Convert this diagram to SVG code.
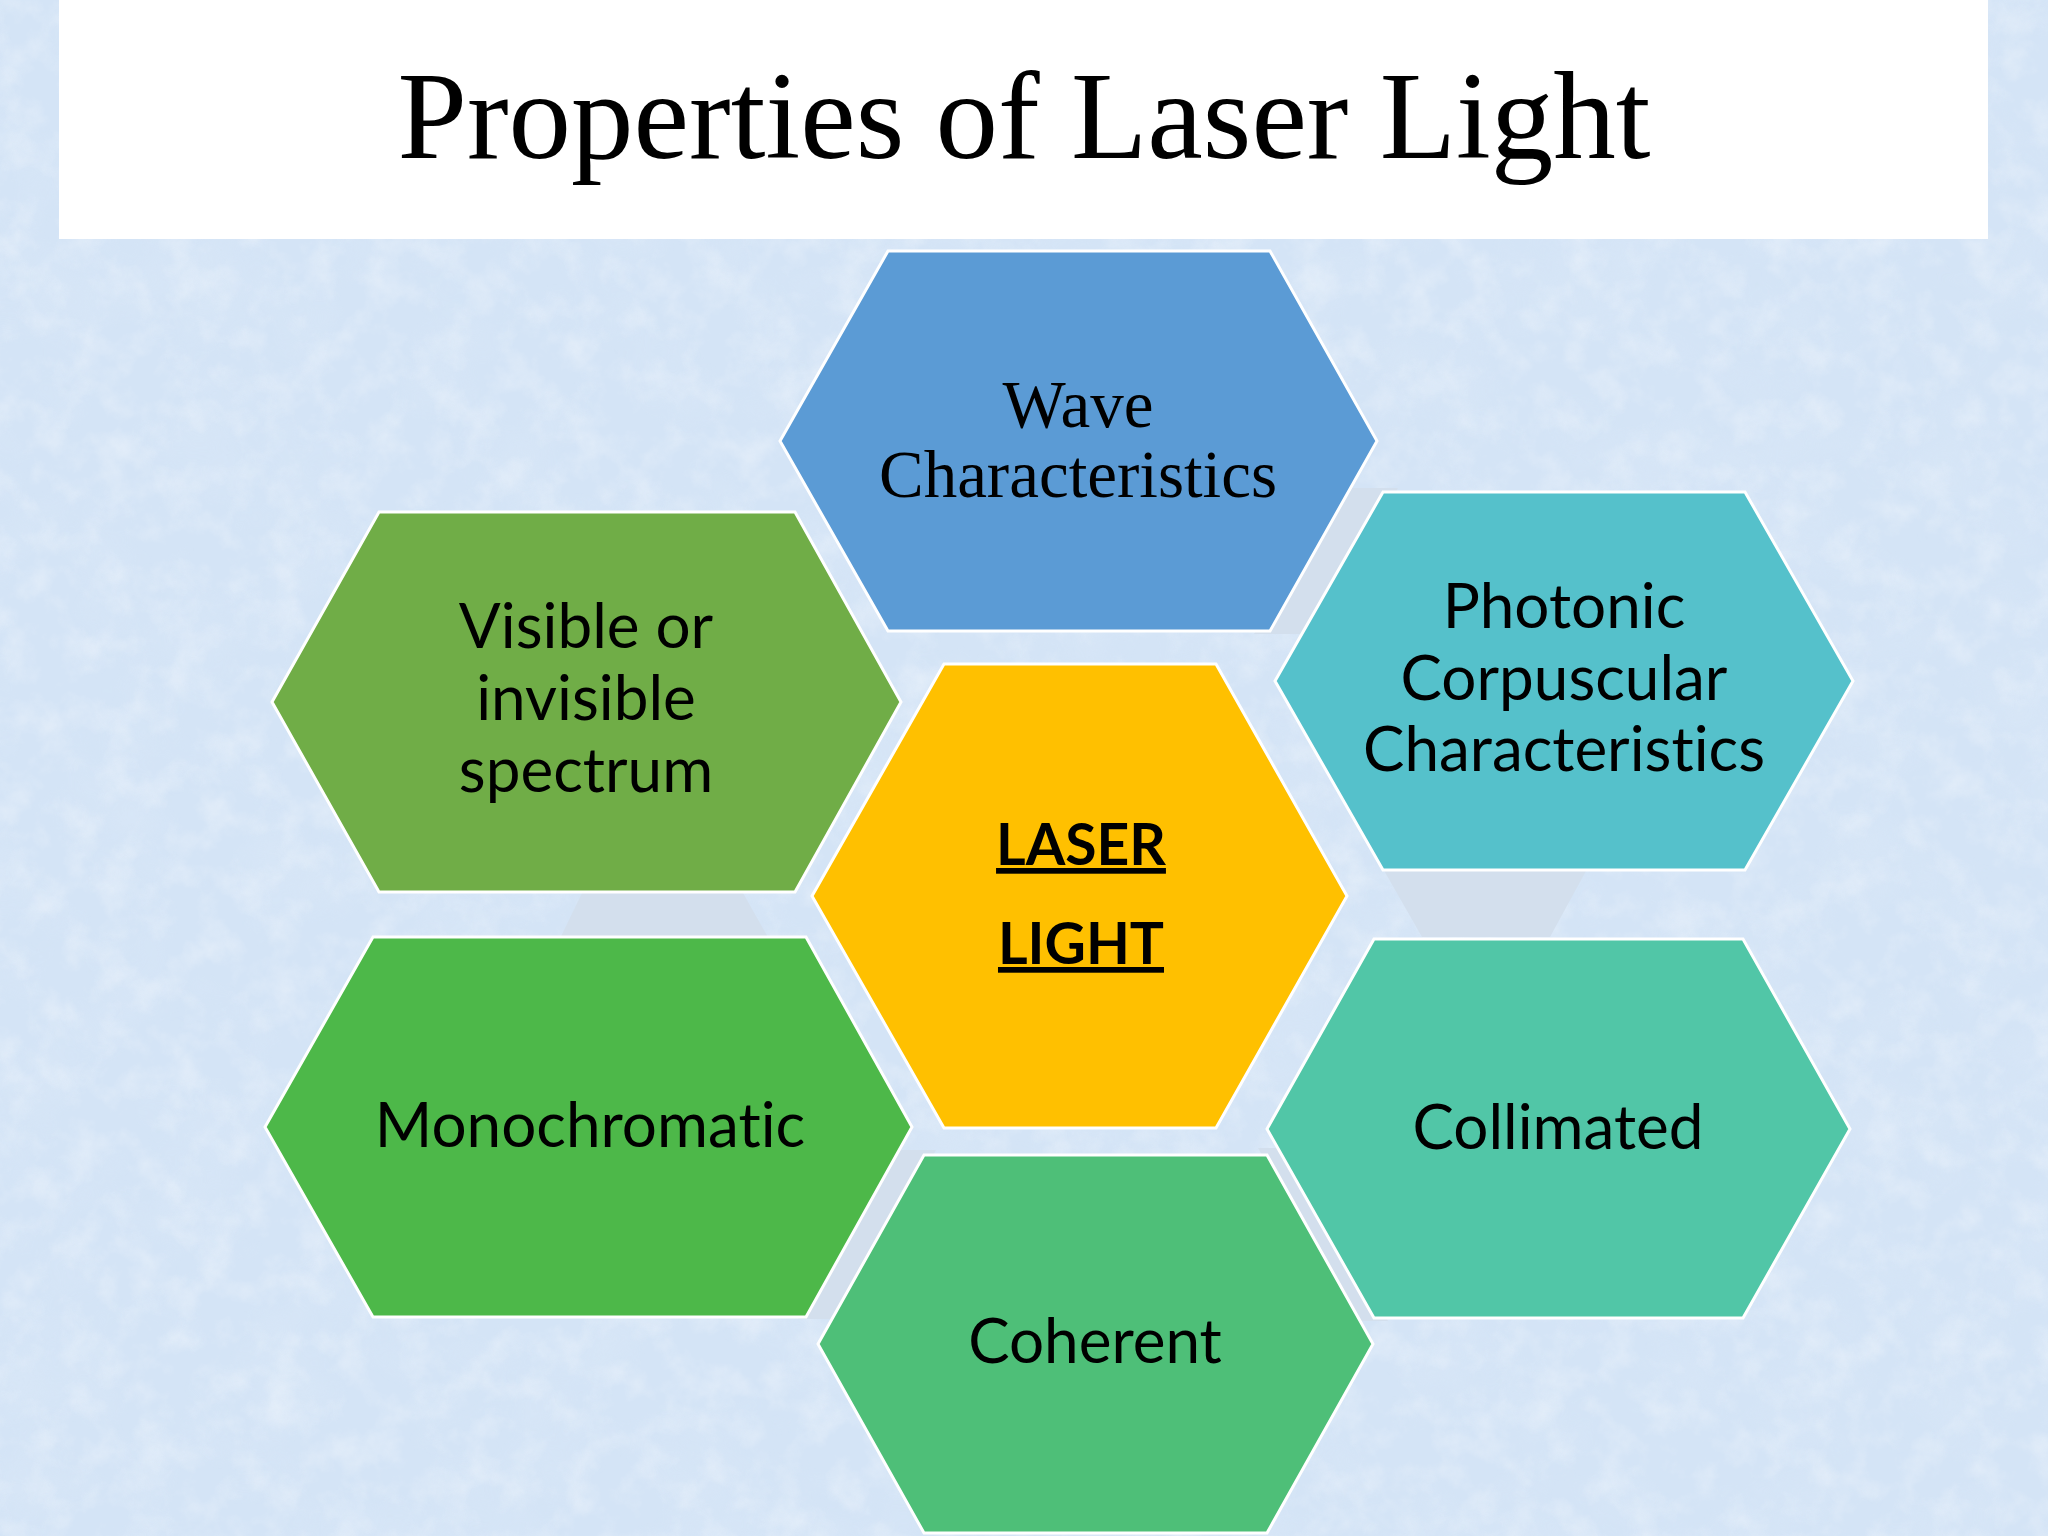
<svg xmlns="http://www.w3.org/2000/svg" width="2048" height="1536" viewBox="0 0 2048 1536">
<defs>
<filter id="tex" x="0" y="0" width="100%" height="100%" filterUnits="userSpaceOnUse">
<feTurbulence type="fractalNoise" baseFrequency="0.03" numOctaves="4" seed="7" result="n"/>
<feColorMatrix in="n" type="matrix" values="0 0 0 0 1  0 0 0 0 1  0 0 0 0 1  1.6 0 0 0 -0.7"/>
</filter>
<filter id="tex2" x="0" y="0" width="100%" height="100%" filterUnits="userSpaceOnUse">
<feTurbulence type="fractalNoise" baseFrequency="0.012" numOctaves="3" seed="2" result="n"/>
<feColorMatrix in="n" type="matrix" values="0 0 0 0 0.72  0 0 0 0 0.82  0 0 0 0 0.94  0 1.4 0 0 -0.6"/>
</filter>
<style>
.hex{stroke:#ffffff;stroke-width:3;stroke-linejoin:miter}
.band{fill:#d3dfed}
.lbl{font-family:Lato,"Noto Sans","Liberation Sans",sans-serif;font-size:62px;fill:#000;text-anchor:middle;font-variant-ligatures:none}
.serif{font-family:"Liberation Serif","Times New Roman",serif;font-size:67px;fill:#000;text-anchor:middle}
.bold{font-weight:700;font-size:57px;text-decoration:underline}
</style>
</defs>
<rect x="0" y="0" width="2048" height="1536" fill="#d4e4f6"/>
<rect x="0" y="0" width="2048" height="1536" filter="url(#tex2)" opacity="0.6"/>
<rect x="0" y="0" width="2048" height="1536" filter="url(#tex)" opacity="0.4"/>
<g id="title">
<rect x="59" y="0" width="1929" height="239" fill="#ffffff"/>
<text x="1024" y="158" font-family="'Liberation Serif','Times New Roman',serif" font-size="125" text-anchor="middle" fill="#000">Properties of Laser Light</text>
</g>
<g id="connectors">
<polygon class="band" points="582,893 743,893 778,955 552,955"/>
<polygon class="band" points="1378,860 1592,860 1550,937 1422,937"/>
<polygon class="band" points="1340,488 1398,488 1312,634 1254,634"/>
<polygon class="band" points="893,1150 936,1150 846,1319 798,1319"/>
<polygon class="band" points="1258,1148 1290,1148 1388,1321 1356,1321"/>
</g>
<g id="node-wave">
<polygon class="hex" fill="#5b9bd5" points="780,441 888,251 1270,251 1377,441 1270,631 888,631"/>
<text class="serif" x="1078" y="427">Wave</text>
<text class="serif" x="1078" y="497">Characteristics</text>
</g>
<g id="node-visible">
<polygon class="hex" fill="#70ad47" points="272,702 379,512 795,512 901,702 795,892 379,892"/>
<text class="lbl" x="586" y="648">Visible or</text>
<text class="lbl" x="586" y="720">invisible</text>
<text class="lbl" x="586" y="792">spectrum</text>
</g>
<g id="node-photonic">
<polygon class="hex" fill="#55c1cb" points="1275,681 1383,492 1745,492 1853,681 1745,870 1383,870"/>
<text class="lbl" x="1564" y="628">Photonic</text>
<text class="lbl" x="1564" y="700">Corpuscular</text>
<text class="lbl" x="1564" y="771">Characteristics</text>
</g>
<g id="node-laser">
<polygon class="hex" fill="#ffc000" points="812,896 944,664 1216,664 1347,896 1216,1128 944,1128"/>
<text class="lbl bold" x="1081" y="865">LASER</text>
<text class="lbl bold" x="1081" y="964">LIGHT</text>
</g>
<g id="node-mono">
<polygon class="hex" fill="#4db849" points="265,1127 373,937 806,937 912,1127 806,1317 373,1317"/>
<text class="lbl" x="590" y="1147">Monochromatic</text>
</g>
<g id="node-collimated">
<polygon class="hex" fill="#51c6a7" points="1267,1129 1374,939 1743,939 1850,1129 1743,1318 1374,1318"/>
<text class="lbl" x="1558" y="1149">Collimated</text>
</g>
<g id="node-coherent">
<polygon class="hex" fill="#4ebf78" points="818,1344 924,1155 1267,1155 1373,1344 1267,1533 924,1533"/>
<text class="lbl" x="1095" y="1363">Coherent</text>
</g>
</svg>
